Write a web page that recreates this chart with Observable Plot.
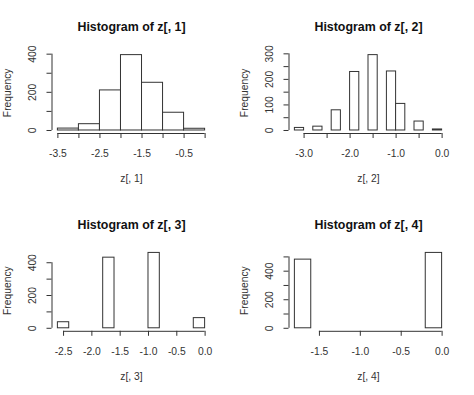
<!DOCTYPE html>
<html><head><meta charset="utf-8">
<script src="https://cdn.jsdelivr.net/npm/d3@7"></script>
<script src="https://cdn.jsdelivr.net/npm/@observablehq/plot@0.6"></script>
<style>
html,body{margin:0;padding:0;background:#fff;}
#grid{display:grid;grid-template-columns:237px 237px;width:474px;}
#grid svg{display:block;}
</style></head><body><div id="grid"></div>
<script>
// Panel 1: z[, 1]
const breaks1 = [-3.5, -3.0, -2.5, -2.0, -1.5, -1.0, -0.5, 0.0];
const counts1 = [10, 33, 210, 395, 250, 93, 9];
const xTicks1 = [-3.5, -3.0, -2.5, -2.0, -1.5, -1.0, -0.5, 0.0];
const xLabels1 = [-3.5, -2.5, -1.5, -0.5];
const yTicks1 = [0, 100, 200, 300, 400];
const yLabels1 = [0, 200, 400];

// Panel 2: z[, 2]
const breaks2 = [-3.2, -3.0, -2.8, -2.6, -2.4, -2.2, -2.0, -1.8, -1.6, -1.4, -1.2, -1.0, -0.8, -0.6, -0.4, -0.2, 0.0];
const counts2 = [10, 0, 15, 0, 79, 0, 229, 0, 295, 0, 231, 104, 0, 35, 0, 4];
const xTicks2 = [-3.0, -2.5, -2.0, -1.5, -1.0, -0.5, 0.0];
const xLabels2 = [-3.0, -2.0, -1.0, 0.0];
const yTicks2 = [0, 50, 100, 150, 200, 250, 300];
const yLabels2 = [0, 100, 200, 300];

// Panel 3: z[, 3]
const breaks3 = [-2.6, -2.4, -2.2, -2.0, -1.8, -1.6, -1.4, -1.2, -1.0, -0.8, -0.6, -0.4, -0.2, 0.0];
const counts3 = [37, 0, 0, 0, 431, 0, 0, 0, 460, 0, 0, 0, 62];
const xTicks3 = [-2.5, -2.0, -1.5, -1.0, -0.5, 0.0];
const xLabels3 = [-2.5, -2.0, -1.5, -1.0, -0.5, 0.0];
const yTicks3 = [0, 100, 200, 300, 400];
const yLabels3 = [0, 200, 400];

// Panel 4: z[, 4]
const breaks4 = [-1.8, -1.6, -1.4, -1.2, -1.0, -0.8, -0.6, -0.4, -0.2, 0.0];
const counts4 = [481, 0, 0, 0, 0, 0, 0, 0, 528];
const xTicks4 = [-1.5, -1.0, -0.5, 0.0];
const xLabels4 = [-1.5, -1.0, -0.5, 0.0];
const yTicks4 = [0, 100, 200, 300, 400, 500];
const yLabels4 = [0, 200, 400];

const panels = [
  {title: "Histogram of z[, 1]", xlab: "z[, 1]", breaks: breaks1, counts: counts1, xTicks: xTicks1, xLabels: xLabels1, yTicks: yTicks1, yLabels: yLabels1, h: 197, mt: 51.6},
  {title: "Histogram of z[, 2]", xlab: "z[, 2]", breaks: breaks2, counts: counts2, xTicks: xTicks2, xLabels: xLabels2, yTicks: yTicks2, yLabels: yLabels2, h: 197, mt: 51.6},
  {title: "Histogram of z[, 3]", xlab: "z[, 3]", breaks: breaks3, counts: counts3, xTicks: xTicks3, xLabels: xLabels3, yTicks: yTicks3, yLabels: yLabels3, h: 198, mt: 52.4},
  {title: "Histogram of z[, 4]", xlab: "z[, 4]", breaks: breaks4, counts: counts4, xTicks: xTicks4, xLabels: xLabels4, yTicks: yTicks4, yLabels: yLabels4, h: 198, mt: 52.4}
];

const FONT = "'Liberation Sans', Arial, Helvetica, sans-serif";
const INK = "#333";
const TICKFS = 10.3;

function panel(p) {
  const bins = p.counts.map((c, i) => ({x1: p.breaks[i], x2: p.breaks[i + 1], count: c}));
  const xmin = p.breaks[0], xmax = p.breaks[p.breaks.length - 1];
  const xpad = 0.04 * (xmax - xmin);
  const ymax = d3.max(p.counts);
  const ypad = 0.04 * ymax;
  const xDom = [xmin - xpad, xmax + xpad];
  const yDom = [-ypad, ymax + ypad];
  const xt = p.xTicks, yt = p.yTicks;
  return Plot.plot({
    width: 237,
    height: p.h,
    marginLeft: 51.5,
    marginRight: 26.5,
    marginTop: p.mt,
    marginBottom: p.h - p.mt - 81.4,
    style: {fontFamily: FONT, background: "#fff", color: INK},
    x: {domain: xDom, axis: null},
    y: {domain: yDom, axis: null},
    marks: [
      Plot.rectY(bins, {x1: "x1", x2: "x2", y1: 0, y2: "count", fill: "white", stroke: INK, strokeWidth: 1}),
      // x axis line and ticks
      Plot.ruleY([yDom[0]], {x1: xt[0], x2: xt[xt.length - 1], stroke: INK}),
      Plot.axisX({ticks: xt, anchor: "bottom", tickSize: 5, tickFormat: () => "", label: null, stroke: INK}),
      Plot.text(p.xLabels, {x: d => d, text: d => d.toFixed(1), frameAnchor: "bottom", dy: 20.3, lineAnchor: "middle", fontSize: TICKFS, fill: INK}),
      // y axis line and ticks
      Plot.ruleX([xDom[0]], {y1: yt[0], y2: yt[yt.length - 1], stroke: INK}),
      Plot.axisY({ticks: yt, anchor: "left", tickSize: 5, tickFormat: () => "", label: null, stroke: INK}),
      Plot.text(p.yLabels, {y: d => d, text: d => String(d), frameAnchor: "left", dx: -19, rotate: -90, textAnchor: "middle", lineAnchor: "middle", fontSize: TICKFS, fill: INK}),
      // titles
      Plot.text([p.title], {frameAnchor: "top", dy: -24.8, lineAnchor: "middle", fontSize: 12.4, fontWeight: "bold", fill: "#111"}),
      Plot.text([p.xlab], {frameAnchor: "bottom", dy: 45, lineAnchor: "middle", fontSize: TICKFS, fill: INK}),
      Plot.text(["Frequency"], {frameAnchor: "left", dx: -44.5, rotate: -90, textAnchor: "middle", lineAnchor: "middle", fontSize: TICKFS, fill: INK})
    ]
  });
}

const grid = document.getElementById("grid");
for (const p of panels) grid.appendChild(panel(p));
</script>
</body></html>
